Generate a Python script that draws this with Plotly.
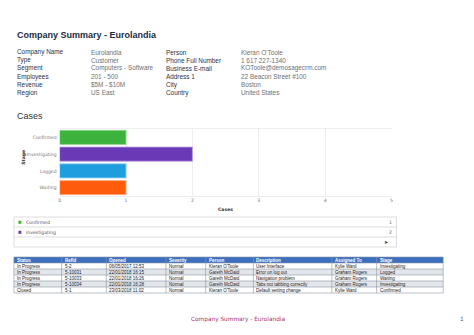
import plotly.graph_objects as go

W, H = 474, 335

title_text = "Company Summary - Eurolandia"
info_labels_left = ["Company Name", "Type", "Segment", "Employees", "Revenue", "Region"]
info_values_left = ["Eurolandia", "Customer", "Computers - Software", "201 - 500", "$5M - $10M", "US East"]
info_labels_right = ["Person", "Phone Full Number", "Business E-mail", "Address 1", "City", "Country"]
info_values_right = ["Kieran O'Toole", "1 617 227-1340", "KOToole@demosagecrm.com",
                     "22 Beacon Street #100", "Boston", "United States"]

stages = ["Confirmed", "Investigating", "Logged", "Waiting"]
case_counts = [1, 2, 1, 1]
stage_colors = ["#3cb33c", "#6a3ab6", "#1e9ddf", "#ff5b0c"]
stage_line_colors = ["#8fd88f", "#b49be0", "#8fd0f2", "#ffb08a"]
x_ticks = [0, 1, 2, 3, 4, 5]

legend_stages = ["Confirmed", "Investigating"]
legend_values = ["1", "2"]

tbl_headers = ["Status", "RefId", "Opened", "Severity", "Person", "Description", "Assigned To", "Stage"]
tbl_status = ["In Progress", "In Progress", "In Progress", "In Progress", "Closed"]
tbl_refid = ["5-2", "5-10031", "5-10033", "5-10034", "5-1"]
tbl_opened = ["06/05/2017 12:53", "22/01/2018 16:15", "22/01/2018 16:26", "22/01/2018 16:28", "23/03/2018 11:02"]
tbl_severity = ["Normal", "Normal", "Normal", "Normal", "Normal"]
tbl_person = ["Kieran O'Toole", "Gareth McDaid", "Gareth McDaid", "Gareth McDaid", "Kieran O'Toole"]
tbl_desc = ["User Interface", "Error on log out", "Navigation problem", "Tabs not tabbing correctly", "Default setting change"]
tbl_assigned = ["Kylie Ward", "Graham Rogers", "Graham Rogers", "Graham Rogers", "Kylie Ward"]
tbl_stage = ["Investigating", "Logged", "Waiting", "Investigating", "Confirmed"]

footer_text = "Company Summary - Eurolandia"
page_number = "1"


def px(x):
    return x / W


def py(y):
    return 1 - y / H


fig = go.Figure()

fig.add_trace(go.Bar(
    x=case_counts, y=stages, orientation="h",
    marker=dict(color=stage_colors, line=dict(color=stage_line_colors, width=0.8)),
    width=0.84, showlegend=False, hoverinfo="skip",
))

ann = []
shapes = []


def text(x, y, t, size, color, family="Liberation Sans", anchor="left", angle=0):
    ann.append(dict(xref="paper", yref="paper", x=px(x), y=py(y), text=t, showarrow=False,
                    xanchor=anchor, yanchor="middle", textangle=angle,
                    font=dict(size=size, color=color, family=family)))


def rect(x0, y0, x1, y1, fill=None, line="rgba(0,0,0,0)", lw=0):
    d = dict(type="rect", xref="paper", yref="paper", x0=px(x0), x1=px(x1), y0=py(y1), y1=py(y0),
             line=dict(color=line, width=lw), layer="above")
    if fill:
        d["fillcolor"] = fill
    shapes.append(d)


def hline(x0, x1, y, color, lw=0.8):
    shapes.append(dict(type="line", xref="paper", yref="paper", x0=px(x0), x1=px(x1),
                       y0=py(y), y1=py(y), line=dict(color=color, width=lw)))


def vline(x, y0, y1, color, lw=0.8):
    shapes.append(dict(type="line", xref="paper", yref="paper", x0=px(x), x1=px(x),
                       y0=py(y0), y1=py(y1), line=dict(color=color, width=lw)))


# header block
text(14, 35, "<b>%s</b>" % title_text, 9, "#1d2b40")
row_y = [52.3, 60.4, 68.5, 76.6, 84.7, 92.8]
for i in range(6):
    text(14, row_y[i], info_labels_left[i], 6.4, "#1e3450")
    text(89, row_y[i], info_values_left[i], 6.4, "#707070")
    text(164, row_y[i], info_labels_right[i], 6.4, "#1e3450")
    text(240, row_y[i], info_values_right[i], 6.4, "#707070")

# chart texts
text(14, 116, "Cases", 9, "#333")
text(22, 157, "<b>Stage</b>", 4.6, "#333", "DejaVu Sans", "center", -90)
text(226, 209, "<b>Cases</b>", 4.6, "#333", "DejaVu Sans", "center")

# legend list box
rect(13, 217, 398, 247, line="#d4d4d4", lw=0.8)
hline(13, 398, 227, "#d4d4d4")
hline(13, 398, 237, "#d4d4d4")
leg_y = [222.3, 232.3]
for i, s in enumerate(legend_stages):
    c = stage_colors[stages.index(s)]
    rect(17.5, leg_y[i] - 1.5, 20.5, leg_y[i] + 1.5, fill=c)
    text(23, leg_y[i], s, 4.6, "#555", "DejaVu Sans")
    text(392, leg_y[i], legend_values[i], 4.6, "#555", "DejaVu Sans", "center")
text(387, 242, "➤", 5, "#333", "DejaVu Sans", "center")

# cases table
col_edges = [13, 61, 106, 166, 206, 254, 333, 378, 445]
tbl_cols = [tbl_status, tbl_refid, tbl_opened, tbl_severity, tbl_person, tbl_desc, tbl_assigned, tbl_stage]
top, rh = 257, 6
n = len(tbl_status)
rect(col_edges[0], top, col_edges[-1], top + rh, fill="#3d6fbf")
for r in range(n):
    fill = "#ffffff" if r % 2 == 0 else "#e3e6eb"
    rect(col_edges[0], top + rh * (r + 1), col_edges[-1], top + rh * (r + 2), fill=fill)
for r in range(n + 2):
    hline(col_edges[0], col_edges[-1], top + rh * r, "#8c96a3", 0.6)
for x in col_edges:
    vline(x, top, top + rh * (n + 1), "#8c96a3", 0.6)
for c, h in enumerate(tbl_headers):
    text(col_edges[c] + 1, top + rh / 2, "<b>%s</b>" % h, 4.5, "white")
    for r in range(n):
        text(col_edges[c] + 1, top + rh * (r + 1) + rh / 2, tbl_cols[c][r], 4.5, "#222")

# footer
text(239, 319, footer_text, 5.8, "#a8306f", "DejaVu Sans", "center")
text(464, 319, page_number, 5.8, "#555", "DejaVu Sans", "center")

fig.update_layout(
    width=W, height=H, margin=dict(l=0, r=0, t=0, b=0),
    paper_bgcolor="white", plot_bgcolor="white",
    xaxis=dict(domain=[px(59), px(393)], range=[0, 5], tickvals=x_ticks,
               showgrid=True, gridcolor="#eeeeee", gridwidth=0.8, zeroline=False,
               showline=True, linecolor="#eeeeee", linewidth=0.8, mirror=True,
               ticks="", tickfont=dict(size=4.6, color="#777", family="DejaVu Sans")),
    yaxis=dict(domain=[py(196), py(129)], autorange="reversed", showgrid=False,
               showline=False, ticks="", ticklabelstandoff=2,
               tickfont=dict(size=4.6, color="#777", family="DejaVu Sans")),
    annotations=ann, shapes=shapes,
)

fig.write_html("out.html")
